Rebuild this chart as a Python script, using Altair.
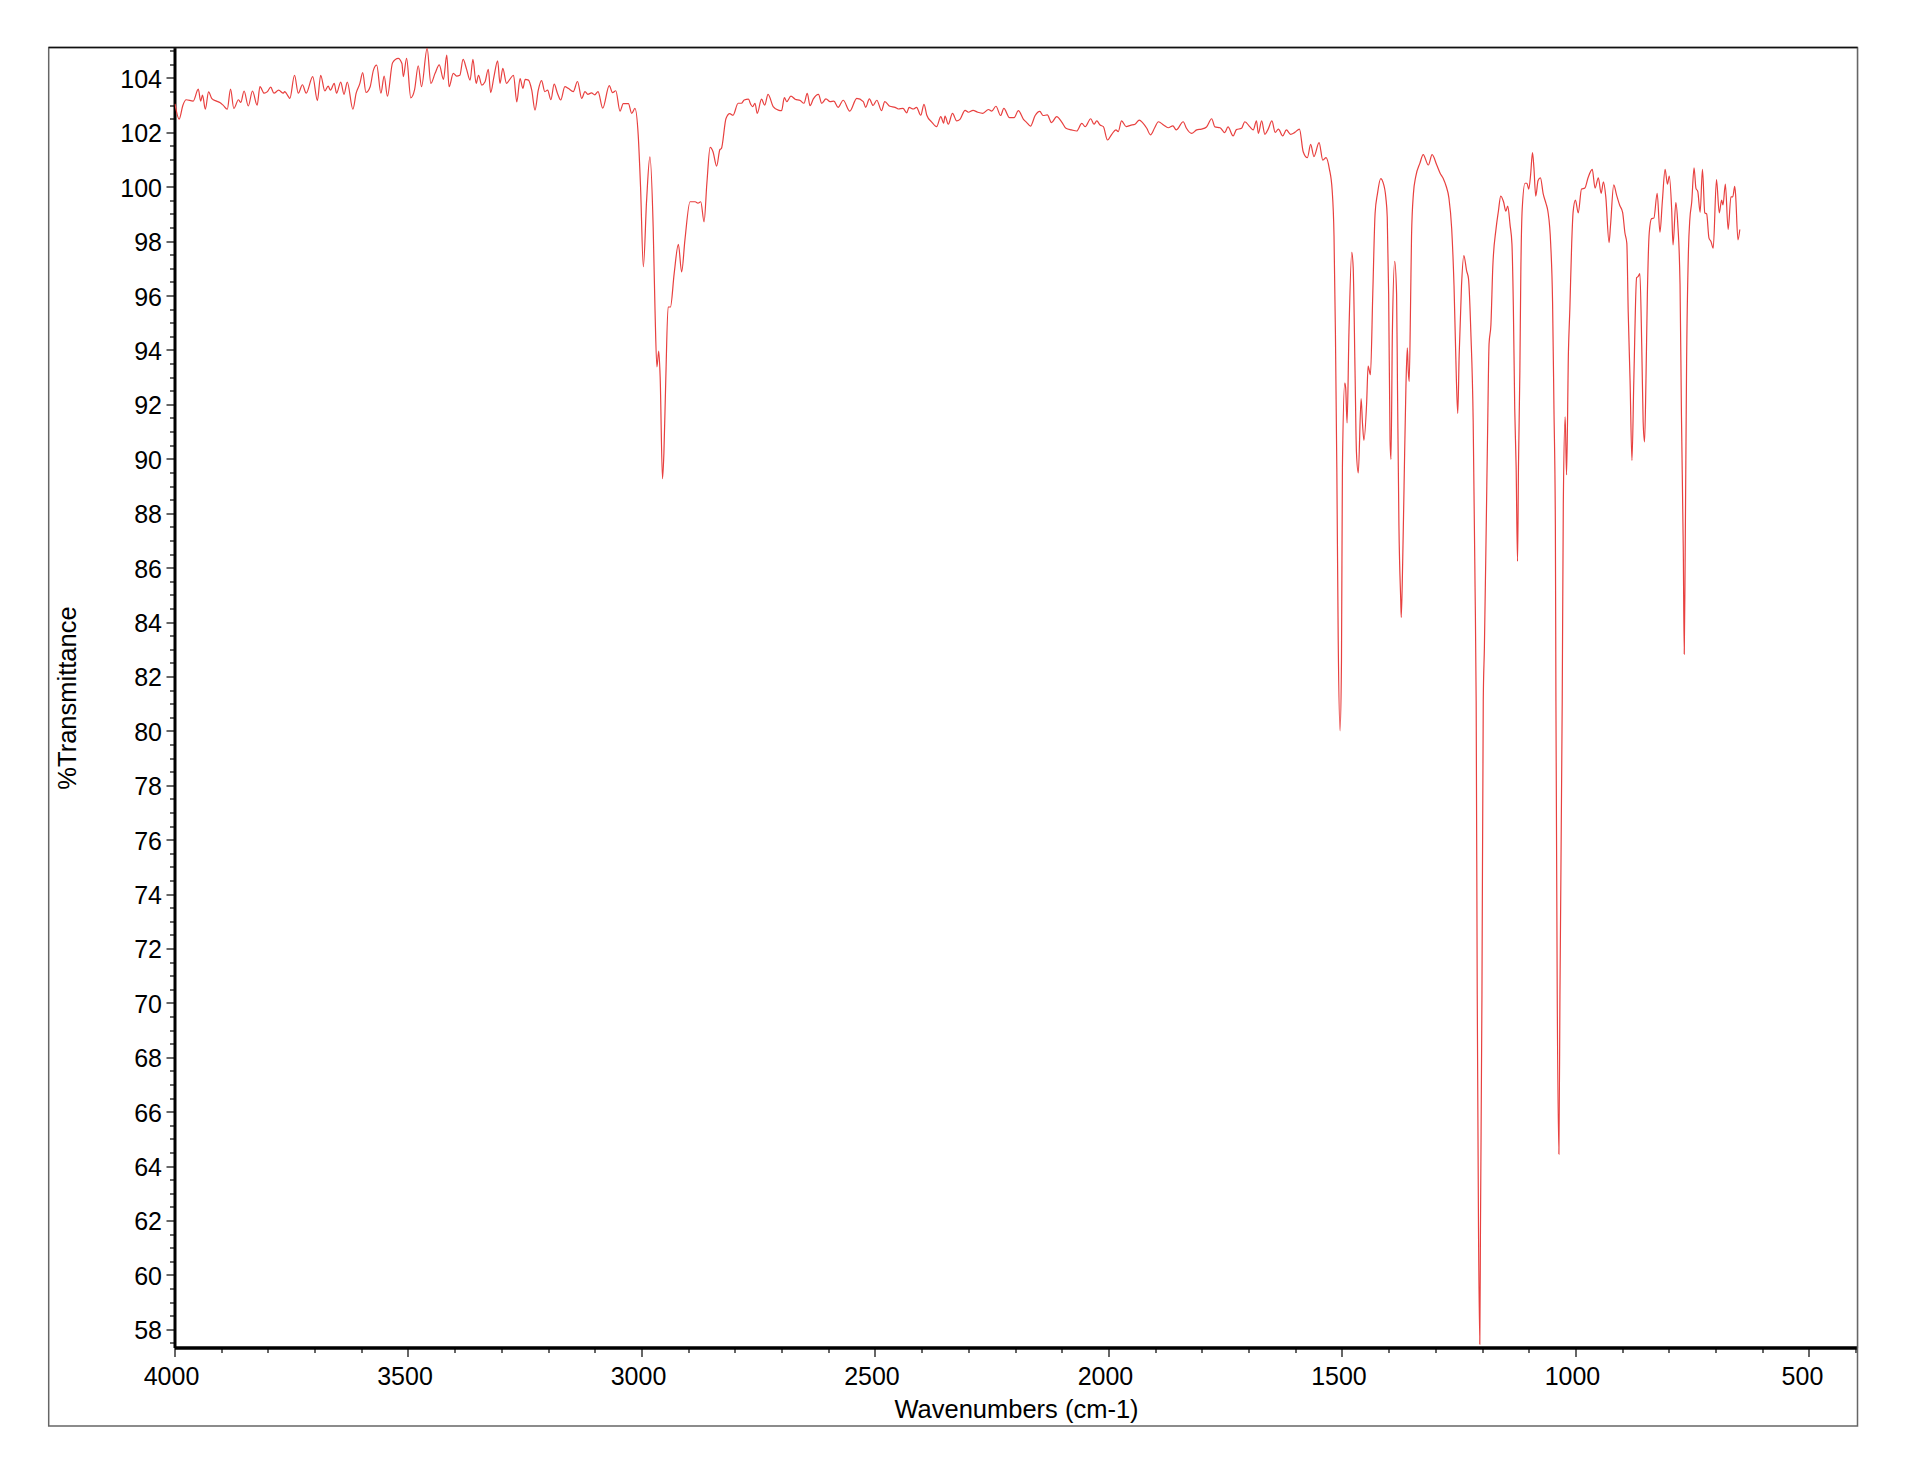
import altair as alt
import pandas as pd

# ---- spectrum values (wavenumber cm-1, %T) ----
# 4000-3478 cm-1 : noisy high baseline
WN_A = [3999, 3990, 3982, 3975, 3960, 3949, 3944, 3940, 3934, 3927, 3920, 3910, 3903, 3896, 3887,
        3880, 3873, 3863, 3858, 3851, 3842, 3833, 3823, 3817, 3808, 3801, 3794, 3787, 3777, 3767,
        3764, 3756, 3753, 3743, 3735, 3726, 3718, 3704, 3694, 3687, 3678, 3671, 3666, 3658, 3653,
        3644, 3637, 3630, 3618, 3611, 3603, 3597, 3590, 3581, 3574, 3567, 3558, 3551, 3544, 3533,
        3521, 3513, 3510, 3503, 3494, 3486, 3478]
T_A = [103.05, 102.49, 103.0, 103.2, 103.15, 103.59, 103.15, 103.37, 102.85, 103.49, 103.24, 103.15, 103.1, 103.0, 102.85,
       103.59, 102.88, 103.2, 103.1, 103.52, 102.97, 103.52, 103.0, 103.68, 103.44, 103.5, 103.66, 103.44, 103.55, 103.44,
       103.5, 103.31, 103.25, 104.1, 103.44, 103.75, 103.44, 104.05, 103.17, 104.1, 103.52, 103.7, 103.55, 103.8, 103.44,
       103.85, 103.4, 103.85, 102.85, 103.44, 103.8, 104.2, 103.47, 103.68, 104.29, 104.47, 103.44, 104.07, 103.33, 104.56,
       104.72, 104.53, 104.05, 104.72, 103.27, 103.56, 104.45]

# 3471-3007 cm-1
WN_B = [3471, 3459, 3451, 3442, 3433, 3424, 3417, 3412, 3403, 3396, 3389, 3382, 3375, 3367, 3361,
        3354, 3349, 3342, 3335, 3328, 3323, 3316, 3308, 3303, 3297, 3289, 3282, 3274, 3267, 3260,
        3254, 3249, 3242, 3235, 3228, 3221, 3214, 3207, 3201, 3194, 3187, 3180, 3173, 3164, 3157,
        3146, 3137, 3128, 3121, 3115, 3107, 3100, 3093, 3083, 3069, 3062, 3055, 3046, 3039, 3028,
        3021, 3014, 3007]
T_B = [103.68, 105.09, 103.8, 104.17, 104.48, 103.95, 104.84, 103.68, 104.17, 104.07, 104.1, 104.68, 104.35, 103.92, 104.68,
       103.8, 104.1, 103.74, 103.86, 104.32, 103.46, 104.04, 104.63, 103.8, 104.35, 103.8, 103.95, 104.1, 103.12, 103.98,
       103.62, 103.95, 103.92, 103.55, 102.82, 103.55, 103.9, 103.5, 103.55, 103.2, 103.77, 103.44, 103.19, 103.68, 103.62,
       103.5, 103.87, 103.25, 103.5, 103.4, 103.45, 103.38, 103.5, 102.89, 103.72, 103.46, 103.53, 102.78, 103.06, 103.06,
       102.7, 102.88, 101.9]

# 3002-2645 cm-1 : C-H stretch band
WN_C = [3002, 2996, 2989, 2982, 2975, 2971, 2967, 2963, 2960, 2955, 2952, 2948, 2943, 2938, 2930,
        2921, 2914, 2907, 2896, 2885, 2879, 2873, 2866, 2860, 2853, 2847, 2839, 2832, 2829, 2819,
        2811, 2804, 2793, 2786, 2780, 2771, 2766, 2762, 2757, 2752, 2743, 2736, 2729, 2718, 2707,
        2700, 2694, 2689, 2680, 2671, 2660, 2652, 2645]
T_C = [100.0, 97.06, 99.51, 101.1, 98.53, 95.46, 93.38, 93.96, 93.01, 89.27, 90.2, 92.89, 95.58, 95.58, 96.81,
       97.88, 96.87, 98.04, 99.45, 99.45, 99.4, 99.45, 98.71, 100.12, 101.45, 101.3, 100.76, 101.37, 101.4, 102.51,
       102.69, 102.63, 103.07, 103.07, 103.19, 103.22, 103.03, 102.95, 103.07, 102.70, 103.22, 103.0, 103.40, 102.95, 102.82,
       102.8, 103.28, 103.13, 103.33, 103.22, 103.17, 103.07, 103.43]

# 2639-1591 cm-1 : slowly falling baseline
WN_D = [2639, 2632, 2621, 2614, 2605, 2596, 2588, 2579, 2568, 2554,
        2539, 2525, 2520, 2512, 2504, 2496, 2486, 2479, 2468, 2457,
        2450, 2440, 2432, 2427, 2418, 2411, 2402, 2395, 2389, 2379,
        2368, 2359, 2353, 2350, 2343, 2334, 2325, 2318, 2307, 2300,
        2290, 2280, 2269, 2257, 2250, 2241, 2231, 2224, 2212, 2202,
        2193, 2182, 2175, 2167, 2157, 2147, 2140, 2131, 2122, 2111,
        2100, 2091, 2079, 2068, 2057, 2050, 2038, 2031, 2025, 2018,
        2011, 2002, 1993, 1984, 1979, 1972, 1962, 1953, 1943, 1934,
        1927, 1918, 1910, 1901, 1893, 1882, 1872, 1862, 1855, 1840,
        1833, 1822, 1811, 1801, 1790, 1779, 1772, 1761, 1751, 1744,
        1733, 1726, 1715, 1708, 1697, 1690, 1683, 1679, 1672, 1665,
        1658, 1650, 1643, 1636, 1627, 1619, 1610, 1601, 1591]
T_D = [102.98, 103.23, 103.40, 103.07, 103.23, 103.13, 103.15, 102.92, 103.18, 102.78,
       103.25, 103.13, 102.92, 103.23, 102.99, 103.18, 102.8, 103.13, 102.96, 102.92,
       102.86, 102.88, 102.72, 102.92, 102.86, 102.92, 102.63, 103.03, 102.63, 102.39,
       102.21, 102.58, 102.34, 102.6, 102.3, 102.7, 102.42, 102.48, 102.81, 102.74,
       102.81, 102.74, 102.7, 102.84, 102.78, 102.96, 102.62, 102.88, 102.54, 102.54,
       102.8, 102.48, 102.36, 102.23, 102.62, 102.77, 102.62, 102.64, 102.36, 102.58,
       102.38, 102.15, 102.09, 102.05, 102.33, 102.21, 102.5, 102.3, 102.42, 102.27,
       102.21, 101.72, 101.93, 102.09, 102.03, 102.42, 102.21, 102.26, 102.3, 102.45,
       102.36, 102.15, 101.91, 102.17, 102.39, 102.27, 102.17, 102.24, 102.09, 102.39,
       102.15, 101.96, 102.09, 102.12, 102.2, 102.5, 102.2, 102.17, 101.99, 102.2,
       101.87, 102.1, 102.15, 102.39, 102.2, 102.09, 102.42, 101.96, 102.42, 101.93,
       102.12, 102.42, 102.0, 102.12, 101.87, 102.09, 101.93, 102.0, 102.12]

# 1583-1000 cm-1 : fingerprint bands
WN_E = [1583, 1574, 1567, 1560, 1549, 1541, 1534, 1527, 1521, 1517,
        1514, 1511, 1508, 1504, 1501, 1499, 1494, 1492, 1489, 1485,
        1479, 1476, 1472, 1469, 1465, 1459, 1456, 1453, 1447, 1444,
        1439, 1434, 1429, 1424, 1417, 1412, 1406, 1403, 1400, 1397,
        1395, 1392, 1387, 1383, 1381, 1378, 1374, 1373, 1370, 1367,
        1363, 1360, 1358, 1356, 1353, 1351, 1347, 1342, 1333, 1326,
        1315, 1307, 1297, 1290, 1283, 1277, 1271, 1265, 1260, 1255,
        1252, 1249, 1244, 1239, 1233, 1229, 1224, 1219, 1215, 1212.6,
        1210.3, 1207.6, 1204.8, 1203.4, 1200.2, 1197.4, 1195, 1191, 1188, 1185,
        1181, 1177, 1170, 1165, 1160, 1154, 1149, 1145, 1140, 1136,
        1133, 1130, 1127, 1124, 1122, 1119, 1117, 1114, 1108, 1104,
        1100, 1096, 1092, 1089, 1085, 1080, 1075, 1069, 1063, 1059,
        1053, 1049, 1046, 1043, 1041.8, 1039.0, 1035.4, 1033.2, 1028.3, 1026,
        1022, 1019, 1015, 1012, 1008, 1005, 1000]
T_E = [101.29, 101.07, 101.56, 101.11, 101.62, 100.98, 101.07, 100.66, 99.88, 98.19,
       94.65, 89.69, 83.33, 80.0, 82.6, 89.7, 92.78, 92.6, 91.32, 94.66,
       97.59, 97.05, 93.23, 90.26, 89.48, 92.21, 91.3, 90.68, 92.1, 93.41,
       93.09, 96.06, 99.03, 99.74, 100.3, 100.16, 99.6, 98.88, 96.06, 90.68,
       89.98, 94.66, 97.26, 96.06, 92.52, 87.57, 84.74, 84.17, 86.16, 88.99,
       92.66, 94.08, 93.23, 92.84, 95.78, 98.19, 99.74, 100.37, 100.87, 101.18,
       100.8, 101.18, 100.8, 100.51, 100.3, 100.03, 99.59, 98.46, 96.35, 92.94,
       91.67, 93.81, 96.35, 97.47, 96.91, 96.62, 94.66, 91.39, 85.32, 81.1,
       70.3, 61.7, 57.45, 61.7, 70.3, 81.1, 83.04, 87.57, 91.11, 94.22,
       94.93, 97.05, 98.46, 99.1, 99.66, 99.45, 99.1, 99.29, 98.6, 97.9,
       95.63, 91.83, 89.69, 86.23, 89.69, 93.23, 96.77, 99.18, 100.13, 100.13,
       99.91, 100.44, 101.26, 100.72, 99.66, 100.23, 100.33, 99.74, 99.38, 99.1,
       97.9, 95.78, 91.83, 87.57, 81.1, 70.3, 64.44, 70.3, 81.1, 88.3,
       91.54, 89.41, 93.94, 95.5, 97.93, 99.07, 99.51]

# 994-648 cm-1 : low-wavenumber bands
WN_F = [994, 987, 980, 973, 964, 958, 951, 945, 940, 935,
        928, 925, 918, 912, 905, 899, 894, 890, 887, 883,
        879, 875, 869, 866, 862, 858, 855, 852, 849, 846,
        842, 837, 832, 825, 819, 814, 808, 803, 799, 794,
        791, 785, 781, 776, 773, 769, 767, 765, 762, 758,
        755, 751, 746, 742, 738, 733, 728, 723, 719, 714,
        710, 705, 698, 692, 687, 684, 679, 673, 667, 663,
        659, 657, 652, 648]
T_F = [99.04, 99.92, 99.95, 100.33, 100.64, 99.95, 100.33, 99.76, 100.18, 99.63,
       97.95, 98.55, 100.07, 99.7, 99.31, 99.06, 98.3, 97.93, 95.4, 92.87,
       89.94, 92.87, 96.66, 96.7, 96.81, 94.13, 91.35, 90.62, 92.87, 96.03,
       98.3, 98.83, 98.85, 99.76, 98.33, 99.44, 100.64, 100.1, 100.39, 99.19,
       97.86, 99.42, 98.68, 96.41, 91.6, 86.55, 82.82, 86.55, 93.5, 97.67,
       98.81, 99.44, 100.7, 99.95, 99.82, 99.06, 100.64, 99.04, 99.0, 98.11,
       98.0, 97.74, 100.26, 99.04, 99.51, 99.33, 100.1, 98.43, 99.63, 99.63,
       100.02, 99.7, 98.05, 98.43]

# axis tick values
X_TICKS = list(range(4000, 399, -100))
Y_TICKS = [v / 2 for v in range(115, 211)]  # 57.5 ... 105

X_TITLE = "Wavenumbers (cm-1)"
Y_TITLE = "%Transmittance"

wn = WN_A + WN_B + WN_C + WN_D + WN_E + WN_F
tr = T_A + T_B + T_C + T_D + T_E + T_F
assert len(wn) == len(tr)
df = pd.DataFrame({"wavenumber": wn, "transmittance": tr, "idx": list(range(len(wn)))})

PLOT_W, PLOT_H = 1683, 1300
FONT = "Liberation Sans"

x_axis = alt.Axis(
    values=X_TICKS,
    labelExpr="datum.value % 500 === 0 ? '' + datum.value : ''",
    tickSize={"condition": {"test": "datum.value % 500 === 0", "value": 9}, "value": 5},
    labelOffset={"condition": {"test": "datum.value < 1000", "value": -7}, "value": -3.5},
    tickColor="#333333", tickWidth=1.5,
    domainColor="#000000", domainWidth=3.5,
    labelFont=FONT, labelFontSize=25, labelColor="#000000",
    labelPadding=8, labelOverlap=False, labelFlush=False, labelBound=False,
    grid=False,
    title=X_TITLE, titleFont=FONT, titleFontSize=25.5, titleFontWeight="normal",
    titleColor="#000000", titleX=841.5, titleY=70, titleBaseline="alphabetic", titleAlign="center",
)
y_axis = alt.Axis(
    values=Y_TICKS,
    labelExpr="datum.value % 2 === 0 ? '' + datum.value : ''",
    tickSize={"condition": {"test": "datum.value % 2 === 0", "value": 8.5}, "value": 5},
    tickColor="#333333", tickWidth=1.5,
    domainColor="#000000", domainWidth=3,
    labelFont=FONT, labelFontSize=25, labelColor="#000000",
    labelPadding=4.5, labelOffset=1.5, labelOverlap=False, labelBound=False,
    grid=False,
    title=Y_TITLE, titleFont=FONT, titleFontSize=25.5, titleFontWeight="normal",
    titleColor="#000000", titleX=-99, titleY=650, titleAngle=270,
    titleBaseline="alphabetic", titleAlign="center",
)

line = alt.Chart(df).mark_line(
    color="#e8403f", strokeWidth=1.2, clip=True, interpolate="monotone"
).encode(
    x=alt.X("wavenumber:Q",
            scale=alt.Scale(domain=[396, 4000], reverse=True, nice=False, zero=False),
            axis=x_axis),
    y=alt.Y("transmittance:Q",
            scale=alt.Scale(domain=[57.33, 105.12], nice=False, zero=False),
            axis=y_axis),
    order=alt.Order("idx:Q"),
)

one = alt.Data(values=[{}])
frame = alt.Chart(one).mark_rect(
    fill="white", fillOpacity=0, stroke="#666666", strokeWidth=1.5, clip=False
).encode(x=alt.value(-125.8), x2=alt.value(PLOT_W), y=alt.value(0), y2=alt.value(1378.5))
top_edge = alt.Chart(one).mark_rule(color="#111111", strokeWidth=1.5, clip=False).encode(
    x=alt.value(-125.8), x2=alt.value(PLOT_W), y=alt.value(0)
)

chart = alt.layer(frame, top_edge, line).properties(
    width=PLOT_W, height=PLOT_H,
    padding={"left": 166.5, "top": 39.5, "right": 42, "bottom": 110},
    autosize=alt.AutoSizeParams(type="none"),
).configure_view(stroke=None).configure(background="white", font=FONT)

chart.save("out.html", embed_options={"renderer": "svg", "actions": False})
